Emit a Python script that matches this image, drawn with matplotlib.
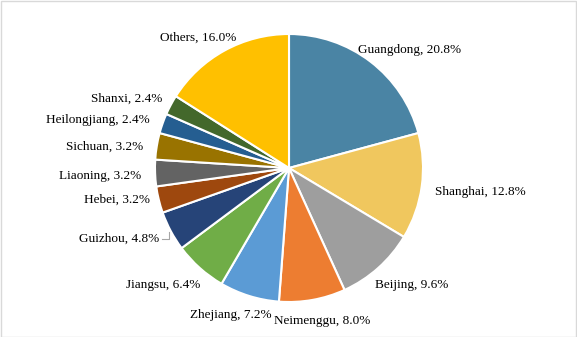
import matplotlib
matplotlib.use('Agg')
import matplotlib.pyplot as plt
import numpy as np

provinces = ['Guangdong', 'Shanghai', 'Beijing', 'Neimenggu', 'Zhejiang',
	'Jiangsu', 'Guizhou', 'Hebei', 'Liaoning', 'Sichuan', 'Heilongjiang',
	'Shanxi', 'Others']
shares = [20.8, 12.8, 9.6, 8.0, 7.2, 6.4, 4.8, 3.2, 3.2, 3.2, 2.4, 2.4, 16.0]
colors = ['#4A84A4', '#F0C75E', '#9E9E9E', '#ED7D31', '#5B9BD5', '#70AD47',
	'#264478', '#9E480E', '#636363', '#997300', '#255E91', '#43682B', '#FFC000']

plt.rcParams['font.family'] = ['Liberation Serif', 'DejaVu Serif']

fig = plt.figure(figsize=(5.77, 3.37), dpi=100)
W, H = 577, 337
cx, cy, r = 289, 168, 134
ax = fig.add_axes([(cx - r) / W, (H - cy - r) / H, 2 * r / W, 2 * r / H])

wedges, _ = ax.pie(shares, colors=colors, startangle=90, counterclock=False,
	wedgeprops=dict(edgecolor='white', linewidth=1.5), radius=1)
ax.set_xlim(-1, 1)
ax.set_ylim(-1, 1)
ax.axis('off')

# fine nudges (in pie radius units) so labels sit like the original layout
nudge = {
	'Guangdong': (-0.14, 0.022), 'Shanghai': (0.02, -0.03),
	'Beijing': (-0.075, -0.065), 'Neimenggu': (-0.30, -0.075),
	'Zhejiang': (0.19, -0.065), 'Jiangsu': (0.06, -0.065),
	'Guizhou': (-0.015, -0.022), 'Hebei': (0.015, 0.022),
	'Liaoning': (-0.02, -0.022), 'Sichuan': (-0.02, -0.015),
	'Heilongjiang': (-0.02, 0.0), 'Shanxi': (0.007, 0.007),
	'Others': (0.13, 0.022),
}

for w, name, val in zip(wedges, provinces, shares):
	ang = np.deg2rad((w.theta1 + w.theta2) / 2)
	x, y = 1.08 * np.cos(ang), 1.08 * np.sin(ang)
	dx, dy = nudge[name]
	ha = 'left' if x >= 0 else 'right'
	ax.text(x + dx, y + dy, f'{name}, {val:.1f}%', ha=ha, va='center',
		fontsize=9.5, color='black')
	if name == 'Guizhou':
		ex, ey = np.cos(ang), np.sin(ang)
		ax.plot([x + dx + 0.02, ex - 0.01, ex - 0.01], [y + dy, y + dy, ey - 0.005],
			color='#A6A6A6', linewidth=0.8, clip_on=False)

fig.patches.append(plt.Rectangle((0.5 / W, 0.5 / H), 1 - 1.5 / W, 1 - 1.5 / H,
	transform=fig.transFigure, fill=False, edgecolor='#D9D9D9', linewidth=1))

fig.savefig('out.png', dpi=100)
